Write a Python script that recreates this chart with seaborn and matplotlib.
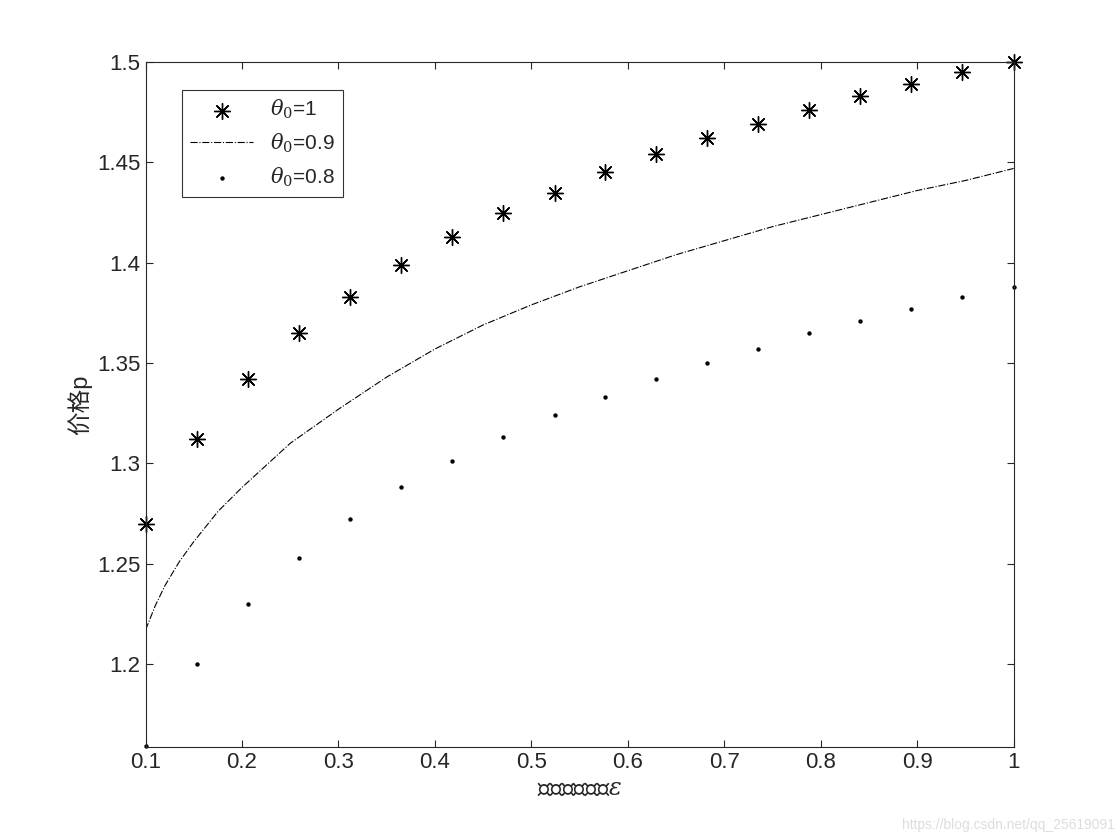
import matplotlib
matplotlib.use('Agg')
import matplotlib.pyplot as plt
import seaborn as sns
import numpy as np

# 数据
eps_pts = [0.1, 0.153, 0.206, 0.259, 0.312, 0.365, 0.418, 0.471, 0.524,
           0.576, 0.629, 0.682, 0.735, 0.788, 0.841, 0.894, 0.947, 1.0]
p_theta1 = [1.270, 1.312, 1.342, 1.365, 1.383, 1.399, 1.413, 1.425, 1.435,
            1.445, 1.454, 1.462, 1.469, 1.476, 1.483, 1.489, 1.495, 1.500]
p_theta08 = [1.159, 1.200, 1.230, 1.253, 1.272, 1.288, 1.301, 1.313, 1.324,
             1.333, 1.342, 1.350, 1.357, 1.365, 1.371, 1.377, 1.383, 1.388]
eps_line = [0.1, 0.11, 0.12, 0.135, 0.15, 0.175, 0.2, 0.25, 0.3, 0.35, 0.4, 0.45, 0.5,
            0.55, 0.6, 0.65, 0.7, 0.75, 0.8, 0.85, 0.9, 0.95, 1.0]
p_theta09 = [1.217, 1.229, 1.239, 1.251, 1.261, 1.276, 1.288, 1.310, 1.327, 1.343, 1.357,
             1.369, 1.379, 1.388, 1.396, 1.404, 1.411, 1.418, 1.424, 1.430,
             1.436, 1.441, 1.447]

sns.set_style('ticks')
plt.rcParams['font.family'] = ['Liberation Sans', 'Noto Sans CJK SC', 'DejaVu Sans']
plt.rcParams['mathtext.fontset'] = 'dejavuserif'
plt.rcParams['xtick.direction'] = 'in'
plt.rcParams['ytick.direction'] = 'in'
plt.rcParams['axes.unicode_minus'] = False

fig = plt.figure(figsize=(11.2, 8.4), dpi=100)
ax = fig.add_axes([0.130, 0.111, 0.775, 0.815])

sns.scatterplot(x=eps_pts, y=p_theta1, marker=(8, 2, 0), s=130, color='black',
                edgecolor='black', linewidth=1.0, ax=ax, label=r'$\theta_0$=1', clip_on=False)
sns.lineplot(x=eps_line, y=p_theta09, color='black', linestyle='-.', linewidth=0.8,
             ax=ax, label=r'$\theta_0$=0.9')
sns.scatterplot(x=eps_pts, y=p_theta08, marker='.', s=40, color='black',
                linewidth=0, ax=ax, label=r'$\theta_0$=0.8', clip_on=False)

ax.set_xlim(0.1, 1.0)
ax.set_ylim(1.1587, 1.5)
ax.set_xticks([0.1, 0.2, 0.3, 0.4, 0.5, 0.6, 0.7, 0.8, 0.9, 1.0])
ax.set_xticklabels(['0.1', '0.2', '0.3', '0.4', '0.5', '0.6', '0.7', '0.8', '0.9', '1'])
ax.set_yticks([1.2, 1.25, 1.3, 1.35, 1.4, 1.45, 1.5])
ax.set_yticklabels(['1.2', '1.25', '1.3', '1.35', '1.4', '1.45', '1.5'])
ax.tick_params(labelsize=16, top=True, right=True, length=5)
for s in ax.spines.values():
    s.set_visible(True)
    s.set_linewidth(0.8)
ax.set_xlabel('保鲜努力水平$\\epsilon$', fontsize=17)
ax.set_ylabel('价格p', fontsize=17)

leg = ax.legend(loc='upper left', bbox_to_anchor=(0.03, 0.975), fontsize=15,
                frameon=True, fancybox=False, edgecolor='black', handlelength=3)
leg.get_frame().set_linewidth(0.8)

fig.text(0.995, 0.01, 'https://blog.csdn.net/qq_25619091', ha='right', va='bottom',
         fontsize=10, color='#dddddd')

fig.savefig('out.png', dpi=100)
